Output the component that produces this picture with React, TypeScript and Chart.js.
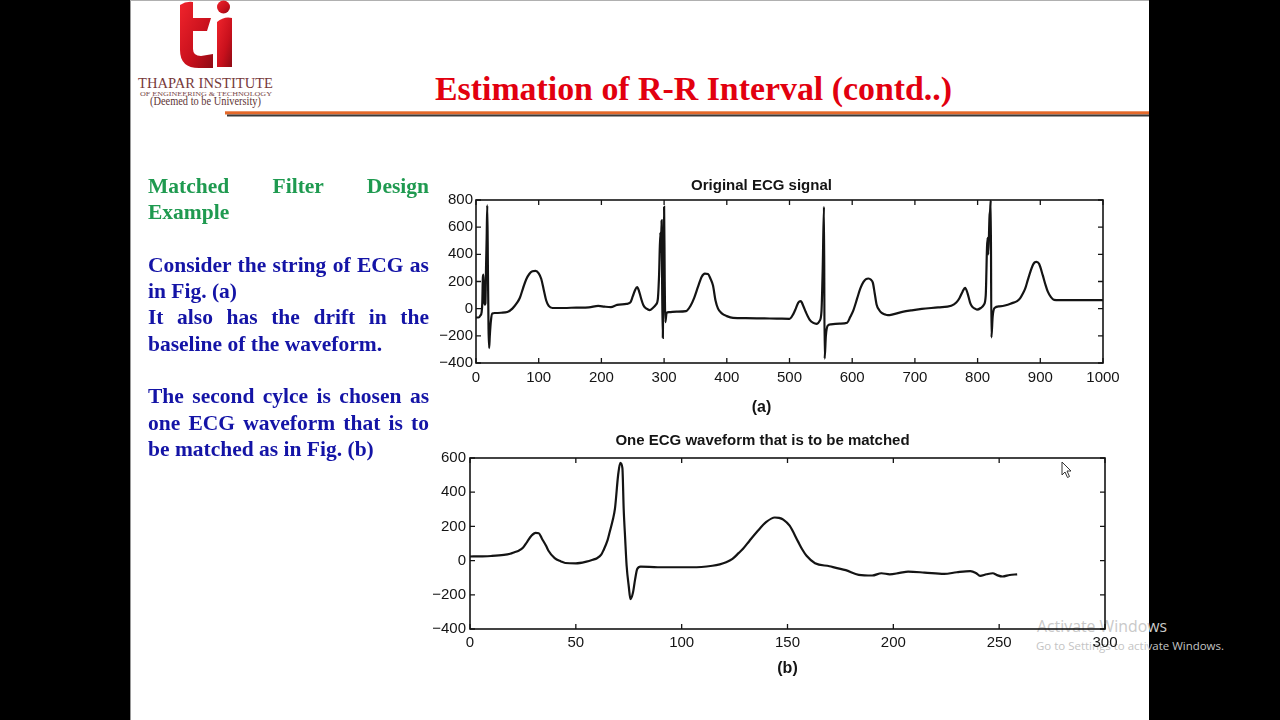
import React, { useEffect, useRef } from 'react';
import { Chart, registerables } from 'chart.js';

Chart.register(...registerables);

// ---------- Data: Fig. (a) original ECG signal ----------
const ecgX = [
  0, 4, 7, 9, 10, 11, 12, 13, 14, 15, 16, 17, 18, 19, 20, 21, 22, 24, 26, 30, 40, 50, 58, 65, 70, 75, 80, 85, 90, 95,
  100, 104, 108, 112, 116, 122, 140, 160, 180, 195, 205, 215, 225, 240, 246, 250, 254, 257, 260, 263, 267, 272, 277,
  282, 287, 290, 292, 294, 295, 296, 297, 298, 299, 300, 301, 302, 304, 308, 320, 335, 342, 348, 354, 360, 365, 370,
  374, 378, 382, 386, 392, 400, 410, 430, 460, 480, 500, 506, 510, 514, 518, 522, 526, 532, 538, 543, 548, 551, 553,
  555, 556, 558, 561, 566, 580, 592, 597, 602, 608, 613, 618, 622, 626, 630, 633, 636, 639, 643, 647, 652, 657, 665,
  680, 695, 711, 737, 758, 766, 771, 776, 780, 784, 788, 791, 795, 799, 805, 810, 813, 815, 816, 817, 819, 820, 821,
  822, 824, 827, 835, 845, 855, 863, 868, 872, 876, 880, 884, 888, 891, 894, 898, 904, 908, 912, 917, 922, 930, 937,
  960, 1000,
];
const ecgY = [
  -65, -65, -50, -25, 40, 230, 250, 60, 30, 40, 300, 520, 760, 300, -150, -290, -200, -80, -35, -32, -30, -25, 0, 40,
  80, 150, 215, 255, 275, 278, 260, 220, 140, 60, 20, 5, 5, 8, 10, 20, 15, 12, 28, 35, 45, 90, 140, 158, 130, 80, 25,
  0, -10, 5, 30, 70, 250, 560, 420, 650, 100, -215, 300, 750, 200, -100, -30, -25, -22, -18, 20, 80, 160, 235, 258,
  255, 220, 170, 60, 0, -35, -55, -68, -70, -72, -73, -75, -40, 0, 45, 55, 20, -25, -80, -105, -112, -90, -20, 300,
  750, -368, -200, -125, -115, -110, -103, -60, -10, 77, 150, 197, 218, 222, 212, 190, 110, 29, -10, -31, -42, -48,
  -42, -24, -12, -2, 10, 22, 45, 77, 125, 154, 113, 45, 17, 2, -7, 5, 29, 100, 450, 522, 400, 678, 720, 800, -211,
  -60, 5, 17, 25, 41, 55, 77, 110, 149, 210, 269, 320, 341, 345, 330, 245, 180, 125, 85, 65, 63, 63, 63, 63,
];
const ecgXTicks = [0, 100, 200, 300, 400, 500, 600, 700, 800, 900, 1000];
const ecgYTicks = [-400, -200, 0, 200, 400, 600, 800];

// ---------- Data: Fig. (b) one ECG waveform to be matched ----------
const tmplX = [
  0, 5, 10, 16, 19, 21, 23, 25, 27, 29, 31, 32.5, 34, 36, 37, 40, 43, 45, 50, 55, 58, 60, 62, 63, 65, 66, 67.5, 68.5,
  70, 71, 72, 72.6, 73.3, 74, 75, 75.8, 77, 78, 79, 80.6, 88.7, 105, 114.5, 118, 121, 124, 127, 129, 132, 135.5, 140,
  144, 146, 148, 151, 155, 157, 159, 163, 169.8, 177.5, 183.7, 190, 194.4, 198.3, 203, 207, 214.7, 224, 230, 236.4,
  239, 241, 244, 247, 249, 251.6, 255, 258.5,
];
const tmplY = [
  24, 25, 27, 33, 40, 49, 58, 75, 110, 145, 162, 160, 128, 85, 59, 14, -5, -14, -16, -6, 5, 14, 35, 59, 120, 167, 240,
  305, 502, 571, 541, 305, 130, -30, -150, -226, -187, -110, -49, -35, -39, -39, -30, -22, -10, 10, 45, 69, 115, 167,
  226, 252, 250, 240, 204, 111, 65, 28, -15, -33, -56, -83, -87, -74, -80, -72, -65, -70, -78, -68, -61, -72, -89,
  -80, -74, -85, -93, -84, -80,
];
const tmplXTicks = [0, 50, 100, 150, 200, 250, 300];
const tmplYTicks = [-400, -200, 0, 200, 400, 600];

// ---------- Text ----------
const slideTitle = 'Estimation of R-R Interval (contd..)';
const topTitle = 'Original ECG signal';
const topCaption = '(a)';
const bottomTitle = 'One ECG waveform that is to be matched';
const bottomCaption = '(b)';

const INK = '#141414';
const SANS = '"Liberation Sans", Arial, Helvetica, sans-serif';
const SERIF = '"Liberation Serif", "Times New Roman", Times, serif';

const fmt = (v: number) => (v < 0 ? '\u2212' + Math.abs(v) : String(v));

const matlabBox = {
  id: 'matlabBox',
  afterDraw(chart: any) {
    const { ctx, chartArea: a, scales } = chart;
    const tl = 5;
    ctx.save();
    ctx.strokeStyle = INK;
    ctx.lineWidth = 1.6;
    ctx.strokeRect(a.left, a.top, a.right - a.left, a.bottom - a.top);
    ctx.lineWidth = 1.3;
    ctx.beginPath();
    scales.x.ticks.forEach((t: any) => {
      const px = scales.x.getPixelForValue(t.value);
      ctx.moveTo(px, a.bottom);
      ctx.lineTo(px, a.bottom - tl);
      ctx.moveTo(px, a.top);
      ctx.lineTo(px, a.top + tl);
    });
    scales.y.ticks.forEach((t: any) => {
      const py = scales.y.getPixelForValue(t.value);
      ctx.moveTo(a.left, py);
      ctx.lineTo(a.left + tl, py);
      ctx.moveTo(a.right, py);
      ctx.lineTo(a.right - tl, py);
    });
    ctx.stroke();
    ctx.restore();
  },
};

type Cfg = {
  xs: number[];
  ys: number[];
  xTicks: number[];
  yTicks: number[];
  title: string;
  caption: string;
  captionAsSubtitle: boolean;
  padding: { left: number; right: number; top: number; bottom: number };
  titlePad: { top: number; bottom: number };
  capPad: { top: number; bottom: number };
  yWidth: number;
  xHeight: number;
  xTickPad: number;
  yTickPad: number;
};

function makeChart(canvas: HTMLCanvasElement, c: Cfg) {
  const pts = c.xs.map((x, i) => ({ x, y: c.ys[i] }));
  return new Chart(canvas, {
    type: 'line',
    data: {
      datasets: [
        {
          data: pts,
          borderColor: INK,
          borderWidth: 2.2,
          pointRadius: 0,
          cubicInterpolationMode: 'monotone',
          fill: false,
        },
      ],
    },
    options: {
      responsive: false,
      animation: false,
      devicePixelRatio: 1,
      layout: { padding: c.padding },
      font: { family: SANS },
      plugins: {
        legend: { display: false },
        tooltip: { enabled: false },
        title: {
          display: true,
          text: c.title,
          color: INK,
          font: { family: SANS, size: 15, weight: 'bold' },
          padding: c.titlePad,
        },
        subtitle: {
          display: c.captionAsSubtitle,
          position: 'bottom',
          text: c.caption,
          color: INK,
          font: { family: SANS, size: 16, weight: 'bold' },
          padding: c.capPad,
        },
      },
      scales: {
        x: {
          type: 'linear',
          min: c.xTicks[0],
          max: c.xTicks[c.xTicks.length - 1],
          afterBuildTicks: (s: any) => {
            s.ticks = c.xTicks.map((v) => ({ value: v }));
          },
          afterFit: (s: any) => {
            s.height = c.xHeight;
          },
          grid: { display: false, drawTicks: false },
          border: { display: false },
          ticks: {
            color: INK,
            padding: c.xTickPad,
            maxRotation: 0,
            autoSkip: false,
            font: { family: SANS, size: 15 },
            callback: (v: any) => fmt(Number(v)),
          },
          title: {
            display: !c.captionAsSubtitle,
            text: c.caption,
            color: INK,
            font: { family: SANS, size: 16, weight: 'bold' },
            padding: c.capPad,
          },
        },
        y: {
          type: 'linear',
          min: c.yTicks[0],
          max: c.yTicks[c.yTicks.length - 1],
          afterBuildTicks: (s: any) => {
            s.ticks = c.yTicks.map((v) => ({ value: v }));
          },
          afterFit: (s: any) => {
            s.width = c.yWidth;
          },
          grid: { display: false, drawTicks: false },
          border: { display: false },
          ticks: {
            color: INK,
            padding: c.yTickPad,
            autoSkip: false,
            font: { family: SANS, size: 15 },
            callback: (v: any) => fmt(Number(v)),
          },
        },
      },
    } as any,
    plugins: [matlabBox],
  });
}

function EcgChart(props: { cfg: Cfg; left: number; top: number; width: number; height: number }) {
  const ref = useRef<HTMLCanvasElement | null>(null);
  useEffect(() => {
    if (!ref.current) return;
    const ch = makeChart(ref.current, props.cfg);
    return () => ch.destroy();
  }, []);
  return (
    <canvas
      ref={ref}
      width={props.width}
      height={props.height}
      style={{
        position: 'absolute',
        left: props.left,
        top: props.top,
        width: props.width,
        height: props.height,
      }}
    />
  );
}

const topCfg: Cfg = {
  xs: ecgX,
  ys: ecgY,
  xTicks: ecgXTicks,
  yTicks: ecgYTicks,
  title: topTitle,
  caption: topCaption,
  captionAsSubtitle: true,
  padding: { left: 0, right: 37, top: 0, bottom: 0 },
  titlePad: { top: 7, bottom: 5 },
  capPad: { top: 6, bottom: 2.4 },
  yWidth: 56,
  xHeight: 29.4,
  xTickPad: 6,
  yTickPad: 3,
};

const bottomCfg: Cfg = {
  xs: tmplX,
  ys: tmplY,
  xTicks: tmplXTicks,
  yTicks: tmplYTicks,
  title: bottomTitle,
  caption: bottomCaption,
  captionAsSubtitle: false,
  padding: { left: 55, right: 24, top: 0, bottom: 0 },
  titlePad: { top: 7, bottom: 8 },
  capPad: { top: 0, bottom: 6.4 },
  yWidth: 50,
  xHeight: 56,
  xTickPad: 5,
  yTickPad: 4,
};

export default function App() {
  const txt: React.CSSProperties = {
    fontFamily: SERIF,
    fontWeight: 'bold',
    fontSize: 21.5,
    lineHeight: '26.35px',
    textAlign: 'justify',
    margin: 0,
  };
  return (
    <div
      style={{
        position: 'fixed',
        left: 0,
        top: 0,
        width: 1280,
        height: 720,
        background: '#000',
        overflow: 'hidden',
      }}
    >
      <svg width={1280} height={720} style={{ position: 'absolute', left: 0, top: 0 }}>
        <defs>
          <linearGradient id="tiRed" x1="0" y1="0" x2="1" y2="1">
            <stop offset="0" stopColor="#f0242c" />
            <stop offset="0.6" stopColor="#c8101c" />
            <stop offset="1" stopColor="#8e0a14" />
          </linearGradient>
        </defs>
        <rect x={130} y={0} width={1019} height={720} fill="#ffffff" />
        <rect x={130} y={0} width={1} height={720} fill="#9a9a9a" />
        <rect x={130} y={0} width={1019} height={1} fill="#b0b0b0" />
        {/* logo */}
        <path
          d="M180,5 Q186,1 193,2 L193,18 L211,18 L207,31 L193,31 L193,49 Q193,56 201,56 L213,54 L213,68 L199,68 Q180,68 180,50 Z"
          fill="url(#tiRed)"
        />
        <path d="M217,22 Q224,16 232,18 L232,67 L217,67 Z" fill="url(#tiRed)" />
        <circle cx={223.5} cy={7} r={6.5} fill="url(#tiRed)" />
        <text
          x={138}
          y={87.5}
          textLength={135}
          lengthAdjust="spacingAndGlyphs"
          fontFamily={SERIF}
          fontSize={14}
          fill="#76383a"
        >
          THAPAR INSTITUTE
        </text>
        <text
          x={140}
          y={95.8}
          textLength={132}
          lengthAdjust="spacingAndGlyphs"
          fontFamily={SERIF}
          fontSize={6.5}
          fill="#7a4a4a"
        >
          OF ENGINEERING &amp; TECHNOLOGY
        </text>
        <text
          x={150}
          y={104.5}
          textLength={111}
          lengthAdjust="spacingAndGlyphs"
          fontFamily={SERIF}
          fontSize={11.5}
          fill="#5e3434"
        >
          (Deemed to be University)
        </text>
        {/* title */}
        <text
          x={435}
          y={100}
          textLength={517}
          lengthAdjust="spacingAndGlyphs"
          fontFamily={SERIF}
          fontWeight="bold"
          fontSize={34}
          fill="#e2000f"
        >
          {slideTitle}
        </text>
        <rect x={225} y={111.3} width={924} height={3.2} fill="#e4692a" />
        <rect x={227} y={114.5} width={922} height={2} fill="#3a3a3a" />
        {/* watermark */}
        <text
          x={1037}
          y={632}
          textLength={130}
          lengthAdjust="spacingAndGlyphs"
          fontFamily='"Open Sans", "Noto Sans", sans-serif'
          fontSize={15.5}
          fill="#c9c9c9"
        >
          Activate Windows
        </text>
        <text
          x={1036}
          y={650}
          textLength={188}
          lengthAdjust="spacingAndGlyphs"
          fontFamily='"Open Sans", "Noto Sans", sans-serif'
          fontSize={11}
          fill="#c4c4c4"
        >
          Go to Settings to activate Windows.
        </text>
      </svg>

      <EcgChart cfg={topCfg} left={420} top={170} width={720} height={250} />
      <EcgChart cfg={bottomCfg} left={365} top={425} width={764} height={260} />

      <div style={{ position: 'absolute', left: 148, top: 172.6, width: 281 }}>
        <p style={{ ...txt, color: '#1f9a50' }}>Matched Filter Design Example</p>
        <p style={{ ...txt, color: '#1414a6', marginTop: 26.35 }}>Consider the string of ECG as in Fig. (a)</p>
        <p style={{ ...txt, color: '#1414a6' }}>It also has the drift in the baseline of the waveform.</p>
        <p style={{ ...txt, color: '#1414a6', marginTop: 26.35 }}>
          The second cylce is chosen as one ECG waveform that is to be matched as in Fig. (b)
        </p>
      </div>

      <svg width={14} height={20} style={{ position: 'absolute', left: 1061, top: 461 }}>
        <path d="M1,1 L1,14 L4,11 L6.5,16.5 L8.5,15.5 L6,10 L10,10 Z" fill="#ffffff" stroke="#333" strokeWidth={1} />
      </svg>
    </div>
  );
}
